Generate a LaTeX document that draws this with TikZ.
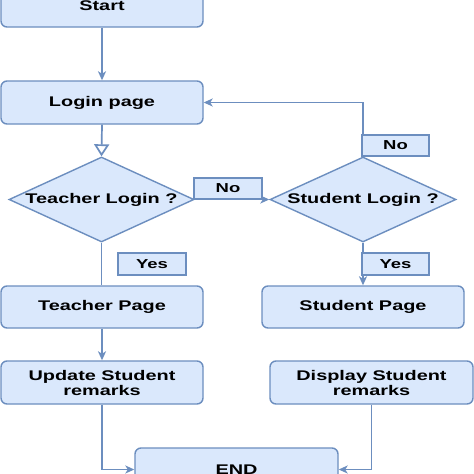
\documentclass[tikz,border=0pt]{standalone}
\usepackage{fontspec}
\setmainfont{Liberation Sans}[FakeStretch=1.42]
\usetikzlibrary{shapes.geometric,arrows.meta}
\definecolor{boxfill}{HTML}{DAE8FC}
\definecolor{boxline}{HTML}{6C8EBF}
\begin{document}
\begin{tikzpicture}[x=1pt,y=-1pt,
  every node/.style={font=\bfseries\fontsize{14}{15}\selectfont, text=black},
  procbox/.style={draw=boxline, fill=boxfill, line width=1.4pt, rounded corners=6pt,
    minimum width=202pt, minimum height=43pt, inner sep=0pt, align=center},
  decbox/.style={draw=boxline, fill=boxfill, line width=1.4pt, diamond, aspect=2.2,
    minimum width=185pt, minimum height=85pt, inner sep=0pt},
  lblbox/.style={draw=boxline, fill=boxfill, line width=1.4pt,
    minimum width=67pt, minimum height=21pt, inner sep=0pt, font=\bfseries\fontsize{13}{14}\selectfont},
  conn/.style={draw=boxline, line width=1.7pt},
  arr/.style={conn, -{Stealth[length=9pt,width=8pt,inset=2.5pt]}},
  openarr/.style={conn, -{Triangle[open,length=12pt,width=15pt]}}
]
\useasboundingbox (0,0) rectangle (474,474);
\fill[white] (0,0) rectangle (474,474);

\node[procbox] (start) at (102,5.5) {Start};
\node[procbox] (login) at (102,102.5) {Login page};
\node[decbox] (td) at (101.5,199.5) {};
\node (tdtxt) at (td.center) {Teacher Login ?};
\node[decbox, minimum width=186pt] (sd) at (363,199.5) {};
\node (sdtxt) at (sd.center) {Student Login ?};
\node[procbox, minimum height=42pt] (tp) at (102,307) {Teacher Page};
\node[procbox, minimum height=42pt] (sp) at (363,307) {Student Page};
\node[procbox] (up) at (102,382.5) {Update Student\\remarks};
\node[procbox, minimum width=203pt] (dp) at (371.5,382.5) {Display Student\\remarks};
\node[procbox, minimum width=203pt] (endn) at (236.5,469.5) {END};

\draw[arr] (start.south) -- (login.north);
\draw[openarr] (login.south) -- (td.north);
\draw[arr] (td.east) -- (sd.west);
\draw[arr] (sd.north) -- (sd.north |- login.east) -- (login.east);
\draw[conn] (td.south) -- (td.south |- tp.north);
\draw[arr] (sd.south) -- (sp.north);
\draw[arr] (tp.south) -- (up.north);
\draw[arr] (up.south) -- (up.south |- endn.west) -- (endn.west);
\draw[arr] (dp.south) -- (dp.south |- endn.east) -- (endn.east);

\node[lblbox, minimum width=68pt] (no1) at (228,188.5) {No};
\node[lblbox] (no2) at (395.5,145.5) {No};
\node[lblbox, minimum width=68pt, minimum height=22pt] (yes1) at (152,264) {Yes};
\node[lblbox, minimum height=22pt] (yes2) at (395.5,264) {Yes};
\end{tikzpicture}
\end{document}
